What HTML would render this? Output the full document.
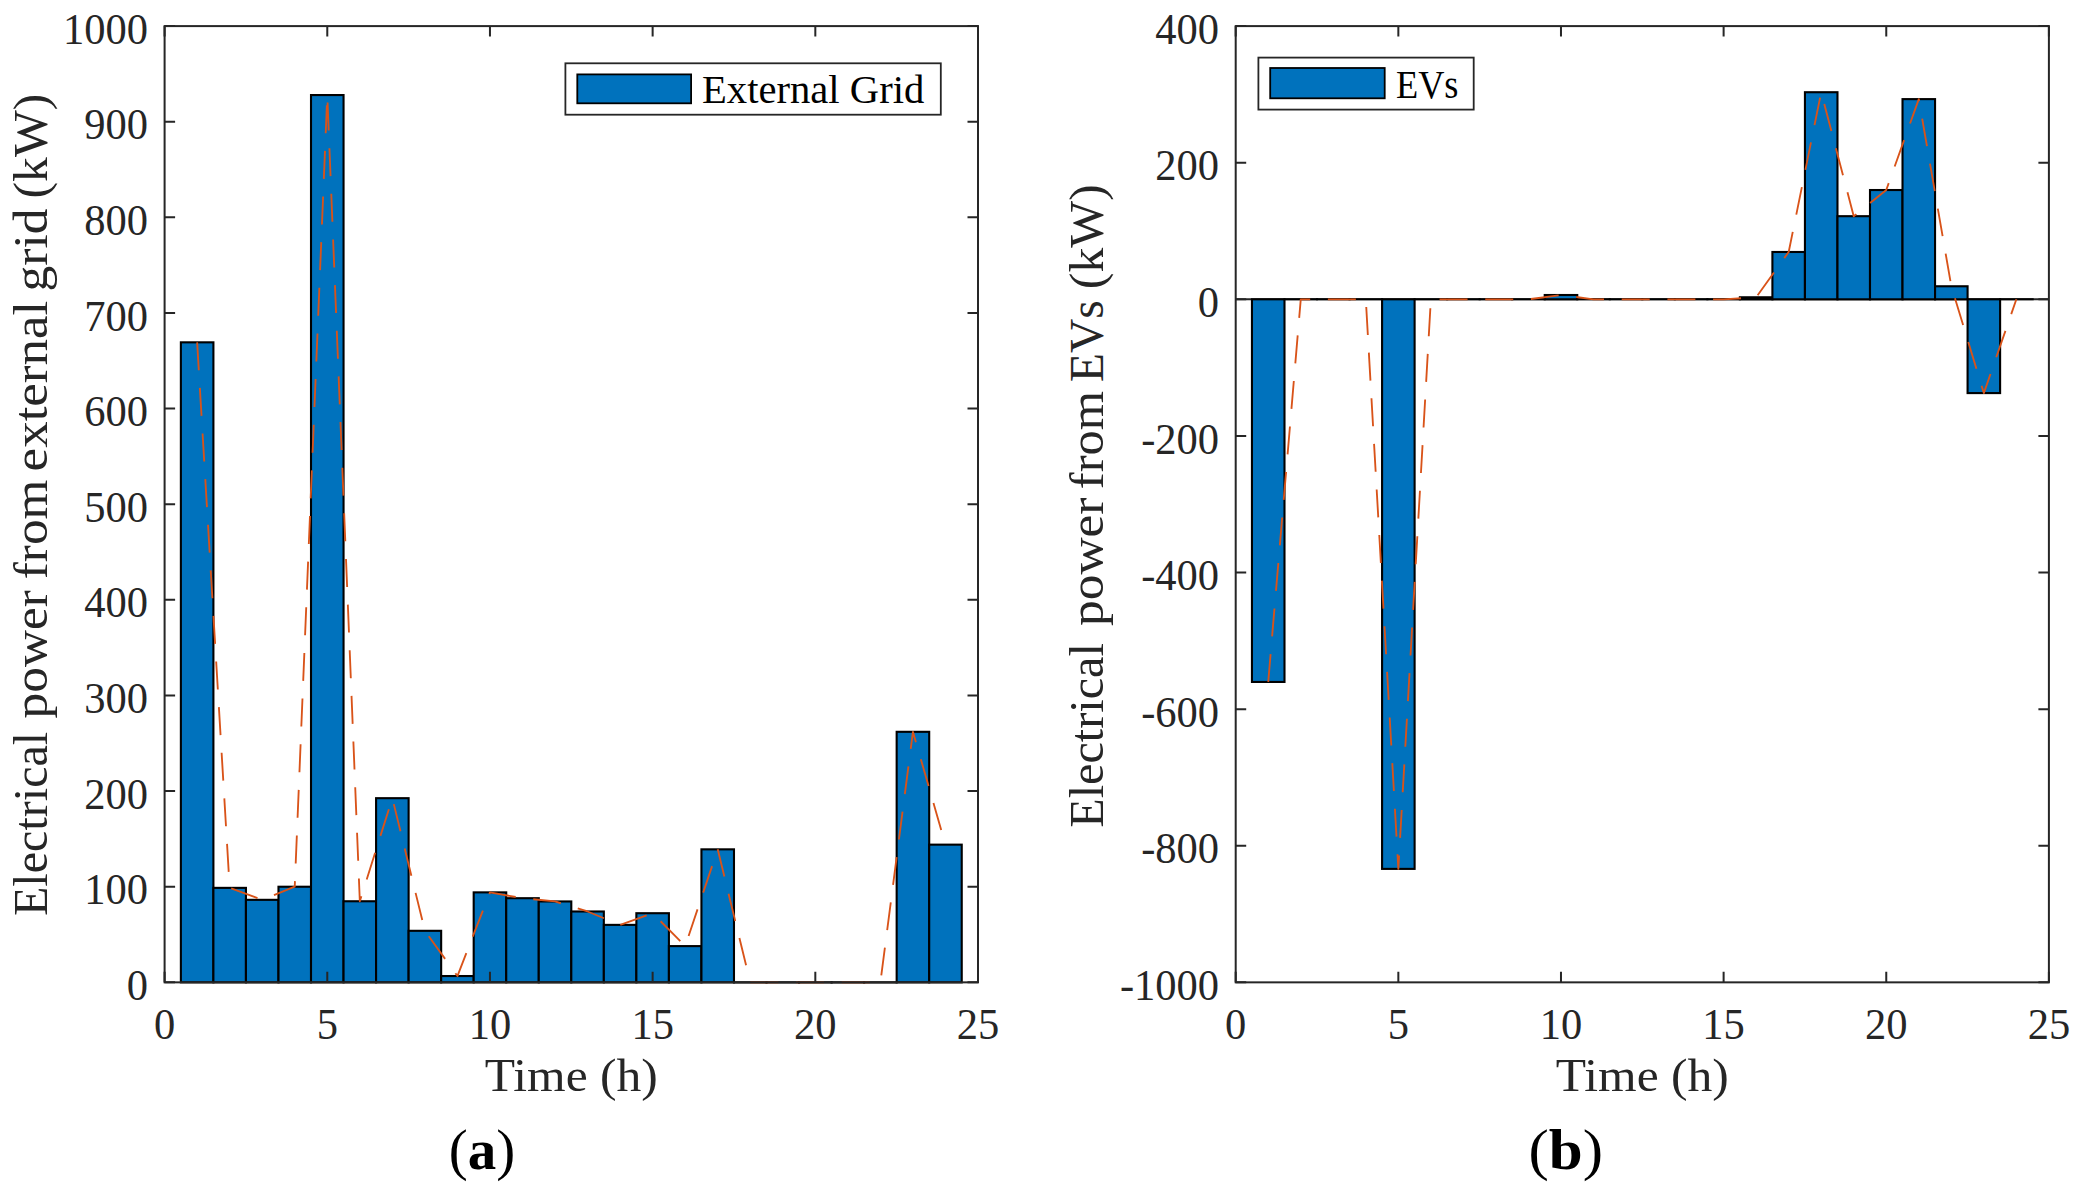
<!DOCTYPE html>
<html><head><meta charset="utf-8"><title>Electrical power from external grid and EVs</title>
<style>
html,body{margin:0;padding:0;background:#fff;}
body{width:2078px;height:1196px;overflow:hidden;}
svg{display:block;font-family:"Liberation Serif", serif;}
</style></head><body>
<svg width="2078" height="1196" viewBox="0 0 2078 1196">
<rect width="2078" height="1196" fill="#fff"/>
<g id="chart-a">
<rect x="180.87" y="342.33" width="32.54" height="640.02" fill="#0072BD" stroke="#000" stroke-width="2.1" stroke-linejoin="miter"/>
<rect x="213.4" y="887.87" width="32.54" height="94.48" fill="#0072BD" stroke="#000" stroke-width="2.1" stroke-linejoin="miter"/>
<rect x="245.94" y="899.83" width="32.54" height="82.52" fill="#0072BD" stroke="#000" stroke-width="2.1" stroke-linejoin="miter"/>
<rect x="278.48" y="886.73" width="32.54" height="95.62" fill="#0072BD" stroke="#000" stroke-width="2.1" stroke-linejoin="miter"/>
<rect x="311.01" y="95.05" width="32.54" height="887.3" fill="#0072BD" stroke="#000" stroke-width="2.1" stroke-linejoin="miter"/>
<rect x="343.55" y="901.26" width="32.54" height="81.09" fill="#0072BD" stroke="#000" stroke-width="2.1" stroke-linejoin="miter"/>
<rect x="376.08" y="798.18" width="32.54" height="184.17" fill="#0072BD" stroke="#000" stroke-width="2.1" stroke-linejoin="miter"/>
<rect x="408.62" y="930.81" width="32.54" height="51.54" fill="#0072BD" stroke="#000" stroke-width="2.1" stroke-linejoin="miter"/>
<rect x="441.16" y="976.04" width="32.54" height="6.31" fill="#0072BD" stroke="#000" stroke-width="2.1" stroke-linejoin="miter"/>
<rect x="473.69" y="892.37" width="32.54" height="89.98" fill="#0072BD" stroke="#000" stroke-width="2.1" stroke-linejoin="miter"/>
<rect x="506.23" y="898.2" width="32.54" height="84.15" fill="#0072BD" stroke="#000" stroke-width="2.1" stroke-linejoin="miter"/>
<rect x="538.76" y="901.45" width="32.54" height="80.9" fill="#0072BD" stroke="#000" stroke-width="2.1" stroke-linejoin="miter"/>
<rect x="571.3" y="911.49" width="32.54" height="70.86" fill="#0072BD" stroke="#000" stroke-width="2.1" stroke-linejoin="miter"/>
<rect x="603.84" y="924.88" width="32.54" height="57.47" fill="#0072BD" stroke="#000" stroke-width="2.1" stroke-linejoin="miter"/>
<rect x="636.37" y="913.21" width="32.54" height="69.14" fill="#0072BD" stroke="#000" stroke-width="2.1" stroke-linejoin="miter"/>
<rect x="668.91" y="946.11" width="32.54" height="36.24" fill="#0072BD" stroke="#000" stroke-width="2.1" stroke-linejoin="miter"/>
<rect x="701.44" y="849.34" width="32.54" height="133.01" fill="#0072BD" stroke="#000" stroke-width="2.1" stroke-linejoin="miter"/>
<line x1="733.98" y1="982.35" x2="766.52" y2="982.35" stroke="#000" stroke-width="2.1" stroke-linecap="square"/>
<line x1="766.52" y1="982.35" x2="799.05" y2="982.35" stroke="#000" stroke-width="2.1" stroke-linecap="square"/>
<line x1="799.05" y1="982.35" x2="831.59" y2="982.35" stroke="#000" stroke-width="2.1" stroke-linecap="square"/>
<line x1="831.59" y1="982.35" x2="864.12" y2="982.35" stroke="#000" stroke-width="2.1" stroke-linecap="square"/>
<line x1="864.12" y1="982.35" x2="896.66" y2="982.35" stroke="#000" stroke-width="2.1" stroke-linecap="square"/>
<rect x="896.66" y="731.81" width="32.54" height="250.54" fill="#0072BD" stroke="#000" stroke-width="2.1" stroke-linejoin="miter"/>
<rect x="929.2" y="844.65" width="32.54" height="137.7" fill="#0072BD" stroke="#000" stroke-width="2.1" stroke-linejoin="miter"/>
<polyline points="197.14,342.33 229.67,887.87 262.21,899.83 294.74,886.73 327.28,95.05 359.82,901.26 392.35,798.18 424.89,930.81 457.42,976.04 489.96,892.37 522.5,898.2 555.03,901.45 587.57,911.49 620.1,924.88 652.64,913.21 685.18,946.11 717.71,849.34 750.25,982.35 782.78,982.35 815.32,982.35 847.86,982.35 880.39,982.35 912.93,731.81 945.46,844.65" fill="none" stroke="#D95319" stroke-width="1.85" stroke-dasharray="28.0 17.68" stroke-linejoin="round"/>
<rect x="164.6" y="26.1" width="813.4" height="956.25" fill="none" stroke="#262626" stroke-width="2.0"/>
<path d="M164.6 982.35v-10.5M164.6 26.1v10.5M327.28 982.35v-10.5M327.28 26.1v10.5M489.96 982.35v-10.5M489.96 26.1v10.5M652.64 982.35v-10.5M652.64 26.1v10.5M815.32 982.35v-10.5M815.32 26.1v10.5M978 982.35v-10.5M978 26.1v10.5M164.6 982.35h10.5M978 982.35h-10.5M164.6 886.73h10.5M978 886.73h-10.5M164.6 791.1h10.5M978 791.1h-10.5M164.6 695.48h10.5M978 695.48h-10.5M164.6 599.85h10.5M978 599.85h-10.5M164.6 504.23h10.5M978 504.23h-10.5M164.6 408.6h10.5M978 408.6h-10.5M164.6 312.98h10.5M978 312.98h-10.5M164.6 217.35h10.5M978 217.35h-10.5M164.6 121.73h10.5M978 121.73h-10.5M164.6 26.1h10.5M978 26.1h-10.5" stroke="#262626" stroke-width="2.0" fill="none"/>
<text transform="translate(164.6 1039.3) scale(0.96 1)" text-anchor="middle" font-size="44.3" fill="#262626">0</text>
<text transform="translate(327.28 1039.3) scale(0.96 1)" text-anchor="middle" font-size="44.3" fill="#262626">5</text>
<text transform="translate(489.96 1039.3) scale(0.96 1)" text-anchor="middle" font-size="44.3" fill="#262626">10</text>
<text transform="translate(652.64 1039.3) scale(0.96 1)" text-anchor="middle" font-size="44.3" fill="#262626">15</text>
<text transform="translate(815.32 1039.3) scale(0.96 1)" text-anchor="middle" font-size="44.3" fill="#262626">20</text>
<text transform="translate(978 1039.3) scale(0.96 1)" text-anchor="middle" font-size="44.3" fill="#262626">25</text>
<text transform="translate(148 999.95) scale(0.96 1)" text-anchor="end" font-size="44.3" fill="#262626">0</text>
<text transform="translate(148 904.33) scale(0.96 1)" text-anchor="end" font-size="44.3" fill="#262626">100</text>
<text transform="translate(148 808.7) scale(0.96 1)" text-anchor="end" font-size="44.3" fill="#262626">200</text>
<text transform="translate(148 713.08) scale(0.96 1)" text-anchor="end" font-size="44.3" fill="#262626">300</text>
<text transform="translate(148 617.45) scale(0.96 1)" text-anchor="end" font-size="44.3" fill="#262626">400</text>
<text transform="translate(148 521.83) scale(0.96 1)" text-anchor="end" font-size="44.3" fill="#262626">500</text>
<text transform="translate(148 426.2) scale(0.96 1)" text-anchor="end" font-size="44.3" fill="#262626">600</text>
<text transform="translate(148 330.58) scale(0.96 1)" text-anchor="end" font-size="44.3" fill="#262626">700</text>
<text transform="translate(148 234.95) scale(0.96 1)" text-anchor="end" font-size="44.3" fill="#262626">800</text>
<text transform="translate(148 139.33) scale(0.96 1)" text-anchor="end" font-size="44.3" fill="#262626">900</text>
<text transform="translate(148 43.7) scale(0.96 1)" text-anchor="end" font-size="44.3" fill="#262626">1000</text>
<text x="571.3" y="1090.5" text-anchor="middle" font-size="47" fill="#262626" textLength="173" lengthAdjust="spacingAndGlyphs">Time (h)</text>
<text transform="translate(46.5 0) rotate(-90)" font-size="48.5" fill="#262626"><tspan x="-916" textLength="184.22" lengthAdjust="spacingAndGlyphs">Electrical</tspan> <tspan x="-718.4" textLength="128.21" lengthAdjust="spacingAndGlyphs">power</tspan> <tspan x="-579.2" textLength="99.44" lengthAdjust="spacingAndGlyphs">from</tspan> <tspan x="-471.4" textLength="170.65" lengthAdjust="spacingAndGlyphs">external</tspan> <tspan x="-291.4" textLength="82.87" lengthAdjust="spacingAndGlyphs">grid</tspan> <tspan x="-198.4" textLength="104.58" lengthAdjust="spacingAndGlyphs">(kW)</tspan></text>
<rect x="565.4" y="63.3" width="375.4" height="51.4" fill="#fff" stroke="#262626" stroke-width="1.8"/>
<rect x="577.3" y="74.4" width="113.8" height="28.9" fill="#0072BD" stroke="#000" stroke-width="1.8"/>
<text x="702" y="103.1" font-size="39.5" fill="#000" textLength="222.3" lengthAdjust="spacingAndGlyphs">External Grid</text>
</g>
<g id="chart-b">
<line x1="1235.7" y1="299.31" x2="2048.9" y2="299.31" stroke="#262626" stroke-width="2.0"/>
<rect x="1251.96" y="299.31" width="32.53" height="382.64" fill="#0072BD" stroke="#000" stroke-width="2.1" stroke-linejoin="miter"/>
<line x1="1284.49" y1="299.31" x2="1317.02" y2="299.31" stroke="#000" stroke-width="2.1" stroke-linecap="square"/>
<line x1="1317.02" y1="299.31" x2="1349.55" y2="299.31" stroke="#000" stroke-width="2.1" stroke-linecap="square"/>
<line x1="1349.55" y1="299.31" x2="1382.08" y2="299.31" stroke="#000" stroke-width="2.1" stroke-linecap="square"/>
<rect x="1382.08" y="299.31" width="32.53" height="569.58" fill="#0072BD" stroke="#000" stroke-width="2.1" stroke-linejoin="miter"/>
<line x1="1414.6" y1="299.31" x2="1447.13" y2="299.31" stroke="#000" stroke-width="2.1" stroke-linecap="square"/>
<line x1="1447.13" y1="299.31" x2="1479.66" y2="299.31" stroke="#000" stroke-width="2.1" stroke-linecap="square"/>
<line x1="1479.66" y1="299.31" x2="1512.19" y2="299.31" stroke="#000" stroke-width="2.1" stroke-linecap="square"/>
<line x1="1512.19" y1="299.31" x2="1544.72" y2="299.31" stroke="#000" stroke-width="2.1" stroke-linecap="square"/>
<rect x="1544.72" y="295.01" width="32.53" height="4.3" fill="#0072BD" stroke="#000" stroke-width="2.1" stroke-linejoin="miter"/>
<line x1="1577.24" y1="299.31" x2="1609.77" y2="299.31" stroke="#000" stroke-width="2.1" stroke-linecap="square"/>
<line x1="1609.77" y1="299.31" x2="1642.3" y2="299.31" stroke="#000" stroke-width="2.1" stroke-linecap="square"/>
<line x1="1642.3" y1="299.31" x2="1674.83" y2="299.31" stroke="#000" stroke-width="2.1" stroke-linecap="square"/>
<line x1="1674.83" y1="299.31" x2="1707.36" y2="299.31" stroke="#000" stroke-width="2.1" stroke-linecap="square"/>
<line x1="1707.36" y1="299.31" x2="1739.88" y2="299.31" stroke="#000" stroke-width="2.1" stroke-linecap="square"/>
<rect x="1739.88" y="297.27" width="32.53" height="2.05" fill="#0072BD" stroke="#000" stroke-width="2.1" stroke-linejoin="miter"/>
<rect x="1772.41" y="251.98" width="32.53" height="47.33" fill="#0072BD" stroke="#000" stroke-width="2.1" stroke-linejoin="miter"/>
<rect x="1804.94" y="92.22" width="32.53" height="207.1" fill="#0072BD" stroke="#000" stroke-width="2.1" stroke-linejoin="miter"/>
<rect x="1837.47" y="216.19" width="32.53" height="83.13" fill="#0072BD" stroke="#000" stroke-width="2.1" stroke-linejoin="miter"/>
<rect x="1870" y="190.03" width="32.53" height="109.29" fill="#0072BD" stroke="#000" stroke-width="2.1" stroke-linejoin="miter"/>
<rect x="1902.52" y="99.12" width="32.53" height="200.2" fill="#0072BD" stroke="#000" stroke-width="2.1" stroke-linejoin="miter"/>
<rect x="1935.05" y="286.27" width="32.53" height="13.05" fill="#0072BD" stroke="#000" stroke-width="2.1" stroke-linejoin="miter"/>
<rect x="1967.58" y="299.31" width="32.53" height="93.78" fill="#0072BD" stroke="#000" stroke-width="2.1" stroke-linejoin="miter"/>
<line x1="2000.11" y1="299.31" x2="2032.64" y2="299.31" stroke="#000" stroke-width="2.1" stroke-linecap="square"/>
<polyline points="1268.23,681.95 1300.76,299.31 1333.28,299.31 1365.81,299.31 1398.34,868.9 1430.87,299.31 1463.4,299.31 1495.92,299.31 1528.45,299.31 1560.98,295.01 1593.51,299.31 1626.04,299.31 1658.56,299.31 1691.09,299.31 1723.62,299.31 1756.15,297.27 1788.68,251.98 1821.2,92.22 1853.73,216.19 1886.26,190.03 1918.79,99.12 1951.32,286.27 1983.84,393.1 2016.37,299.31" fill="none" stroke="#D95319" stroke-width="1.85" stroke-dasharray="28.0 17.68" stroke-linejoin="round"/>
<rect x="1235.7" y="26.1" width="813.2" height="956.25" fill="none" stroke="#262626" stroke-width="2.0"/>
<path d="M1235.7 982.35v-10.5M1235.7 26.1v10.5M1398.34 982.35v-10.5M1398.34 26.1v10.5M1560.98 982.35v-10.5M1560.98 26.1v10.5M1723.62 982.35v-10.5M1723.62 26.1v10.5M1886.26 982.35v-10.5M1886.26 26.1v10.5M2048.9 982.35v-10.5M2048.9 26.1v10.5M1235.7 982.35h10.5M2048.9 982.35h-10.5M1235.7 845.74h10.5M2048.9 845.74h-10.5M1235.7 709.14h10.5M2048.9 709.14h-10.5M1235.7 572.53h10.5M2048.9 572.53h-10.5M1235.7 435.92h10.5M2048.9 435.92h-10.5M1235.7 299.31h10.5M2048.9 299.31h-10.5M1235.7 162.71h10.5M2048.9 162.71h-10.5M1235.7 26.1h10.5M2048.9 26.1h-10.5" stroke="#262626" stroke-width="2.0" fill="none"/>
<text transform="translate(1235.7 1039.3) scale(0.96 1)" text-anchor="middle" font-size="44.3" fill="#262626">0</text>
<text transform="translate(1398.34 1039.3) scale(0.96 1)" text-anchor="middle" font-size="44.3" fill="#262626">5</text>
<text transform="translate(1560.98 1039.3) scale(0.96 1)" text-anchor="middle" font-size="44.3" fill="#262626">10</text>
<text transform="translate(1723.62 1039.3) scale(0.96 1)" text-anchor="middle" font-size="44.3" fill="#262626">15</text>
<text transform="translate(1886.26 1039.3) scale(0.96 1)" text-anchor="middle" font-size="44.3" fill="#262626">20</text>
<text transform="translate(2048.9 1039.3) scale(0.96 1)" text-anchor="middle" font-size="44.3" fill="#262626">25</text>
<text transform="translate(1219.1 999.95) scale(0.96 1)" text-anchor="end" font-size="44.3" fill="#262626">-1000</text>
<text transform="translate(1219.1 863.34) scale(0.96 1)" text-anchor="end" font-size="44.3" fill="#262626">-800</text>
<text transform="translate(1219.1 726.74) scale(0.96 1)" text-anchor="end" font-size="44.3" fill="#262626">-600</text>
<text transform="translate(1219.1 590.13) scale(0.96 1)" text-anchor="end" font-size="44.3" fill="#262626">-400</text>
<text transform="translate(1219.1 453.52) scale(0.96 1)" text-anchor="end" font-size="44.3" fill="#262626">-200</text>
<text transform="translate(1219.1 316.91) scale(0.96 1)" text-anchor="end" font-size="44.3" fill="#262626">0</text>
<text transform="translate(1219.1 180.31) scale(0.96 1)" text-anchor="end" font-size="44.3" fill="#262626">200</text>
<text transform="translate(1219.1 43.7) scale(0.96 1)" text-anchor="end" font-size="44.3" fill="#262626">400</text>
<text x="1642.3" y="1090.5" text-anchor="middle" font-size="47" fill="#262626" textLength="173" lengthAdjust="spacingAndGlyphs">Time (h)</text>
<text transform="translate(1103.1 0) rotate(-90)" font-size="48.5" fill="#262626"><tspan x="-827.8" textLength="184.62" lengthAdjust="spacingAndGlyphs">Electrical</tspan> <tspan x="-626" textLength="128.41" lengthAdjust="spacingAndGlyphs">power</tspan> <tspan x="-489.2" textLength="98.23" lengthAdjust="spacingAndGlyphs">from</tspan> <tspan x="-382" textLength="81.66" lengthAdjust="spacingAndGlyphs">EVs</tspan> <tspan x="-289.2" textLength="104.96" lengthAdjust="spacingAndGlyphs">(kW)</tspan></text>
<rect x="1258.4" y="57.6" width="215.3" height="52" fill="#fff" stroke="#262626" stroke-width="1.8"/>
<rect x="1270.2" y="68" width="114.5" height="30.3" fill="#0072BD" stroke="#000" stroke-width="1.8"/>
<text x="1396" y="97.7" font-size="39.5" fill="#000" textLength="62.5" lengthAdjust="spacingAndGlyphs">EVs</text>
</g>
<text x="481.9" y="1169.2" text-anchor="middle" font-size="57" fill="#000">(<tspan font-weight="bold">a</tspan>)</text>
<text x="1565.7" y="1169.2" text-anchor="middle" font-size="57" fill="#000" textLength="74.6" lengthAdjust="spacingAndGlyphs">(<tspan font-weight="bold">b</tspan>)</text>
</svg>
</body></html>
